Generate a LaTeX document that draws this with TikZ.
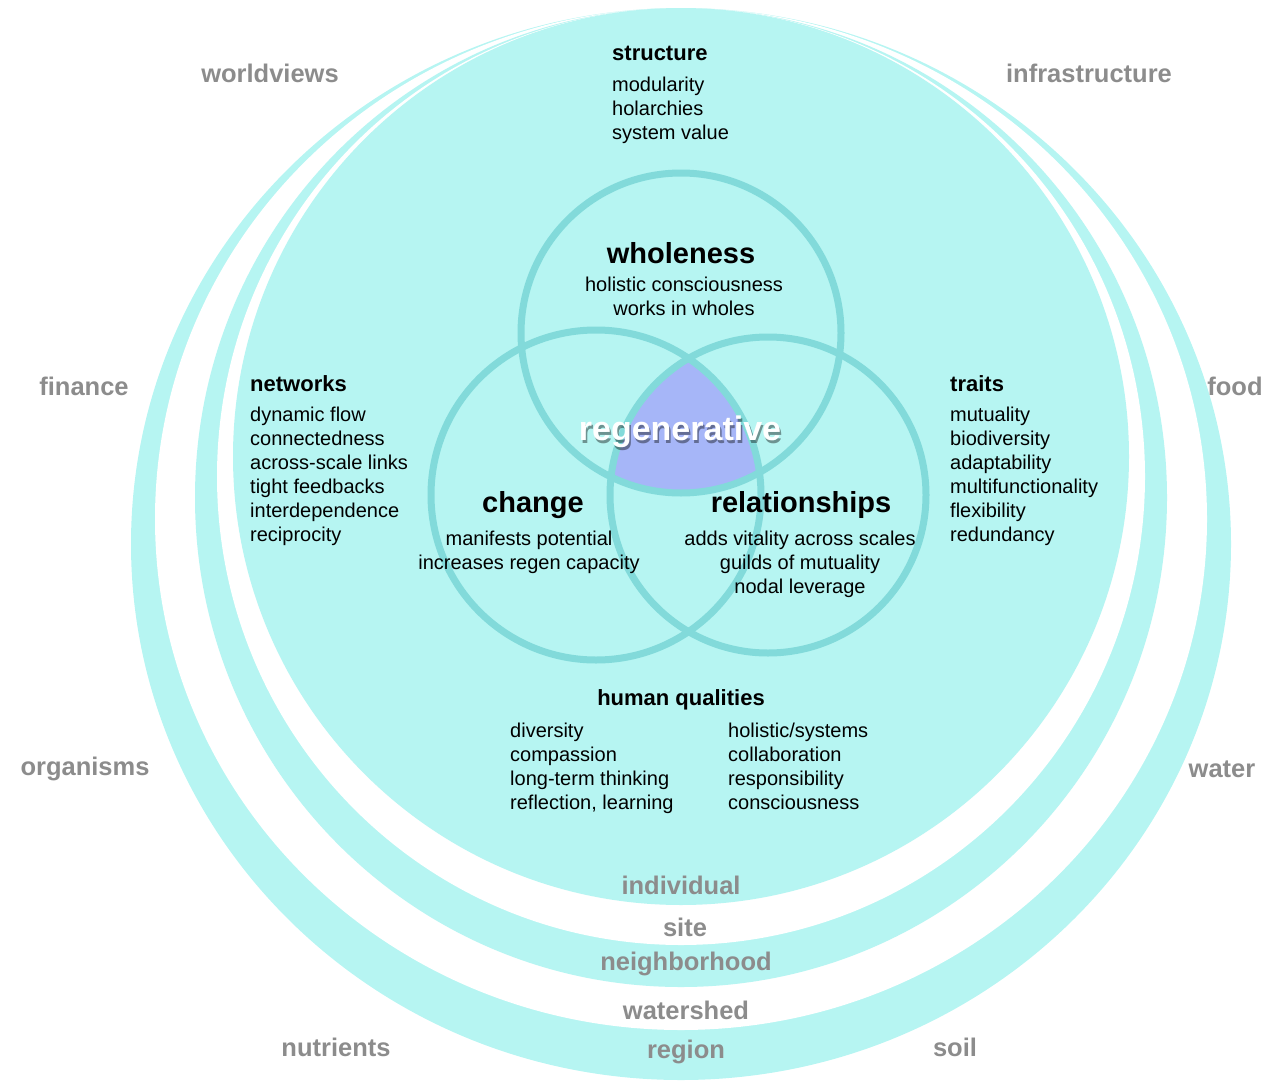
\documentclass[tikz,border=0pt]{standalone}
\usepackage{fontspec}
\setmainfont{Liberation Sans}
\begin{document}
\definecolor{cy}{HTML}{B6F5F2}
\definecolor{ring}{HTML}{82DADA}
\definecolor{gr}{HTML}{8C8C8C}
\definecolor{mid}{HTML}{A6B6F8}
\begin{tikzpicture}[x=1pt,y=-1pt,
  lbl/.style={text=gr,font=\fontsize{25.5}{26}\selectfont\bfseries,inner sep=0},
  hd/.style={font=\fontsize{22}{24}\selectfont\bfseries,inner sep=0,anchor=west},
  big/.style={font=\fontsize{29}{30}\selectfont\bfseries,inner sep=0},
  lst/.style={font=\fontsize{20}{24}\selectfont,inner sep=0,anchor=north west,align=left},
  cl/.style={font=\fontsize{20}{24}\selectfont,inner sep=0,anchor=north,align=center},
  vr/.style={draw=ring,line width=7pt}]
\useasboundingbox (0,0) rectangle (1280,1084);
\fill[cy] (681,544) ellipse [x radius=550,y radius=536];
\fill[white] (681,519) ellipse [x radius=526,y radius=511];
\fill[cy] (681,497.5) ellipse [x radius=486,y radius=489.5];
\fill[white] (681,476.5) ellipse [x radius=464,y radius=468.5];
\fill[cy] (681,456.5) ellipse [x radius=448,y radius=448.5];
\begin{scope}
\clip (681,333) circle [radius=160];
\clip (596,495) circle [radius=165];
\fill[mid] (768,495) circle [radius=158];
\end{scope}
\draw[vr] (681,333) circle [radius=160];
\draw[vr] (596,495) circle [radius=165];
\draw[vr] (768,495) circle [radius=158];
% grey labels
\node[lbl] (wv) at (270,73) {worldviews};
\node[lbl] (inf) at (1089,73) {infrastructure};
\node[lbl] (fin) at (84,386) {finance};
\node[lbl] (food) at (1235,386) {food};
\node[lbl] (org) at (85,769) {organisms};
\node[lbl] (wat) at (1222,769) {water};
\node[lbl] (nut) at (336,1047) {nutrients};
\node[lbl] (soil) at (955,1047) {soil};
\node[lbl] (ind) at (681,885) {individual};
\node[lbl] (site) at (685,927) {site};
\node[lbl] (nbh) at (686,964) {neighborhood};
\node[lbl] (ws) at (686,1010) {watershed};
\node[lbl] (reg) at (686,1052) {region};
% blocks
\node[hd] (st) at (612,53) {structure};
\node[lst] (stl) at (612,77) {modularity\\holarchies\\system value};
\node[hd] (nw) at (250,384) {networks};
\node[lst] (nwl) at (250,407) {dynamic flow\\connectedness\\across-scale links\\tight feedbacks\\interdependence\\reciprocity};
\node[hd] (tr) at (950,384) {traits};
\node[lst] (trl) at (950,407) {mutuality\\biodiversity\\adaptability\\multifunctionality\\flexibility\\redundancy};
\node[big] (wh) at (681,253) {wholeness};
\node[cl] (whl) at (684,277) {holistic consciousness\\works in wholes};
\node[big] (ch) at (533,505) {change};
\node[cl] (chl) at (529,531) {manifests potential\\increases regen capacity};
\node[big] (rel) at (801,505) {relationships};
\node[cl] (rell) at (800,531) {adds vitality across scales\\guilds of mutuality\\nodal leverage};
\node[font=\fontsize{22}{24}\selectfont\bfseries,inner sep=0] (hq) at (681,700) {human qualities};
\node[lst] (hql) at (510,723) {diversity\\compassion\\long-term thinking\\reflection, learning};
\node[lst] (hqr) at (728,723) {holistic/systems\\collaboration\\responsibility\\consciousness};
\node[font=\fontsize{34}{34}\selectfont\bfseries,inner sep=0,text=black,opacity=0.4] (rgs) at (681.5,434.5) {regenerative};
\node[font=\fontsize{34}{34}\selectfont\bfseries,inner sep=0,text=white] (rg) at (680,432) {regenerative};
\end{tikzpicture}
\end{document}
